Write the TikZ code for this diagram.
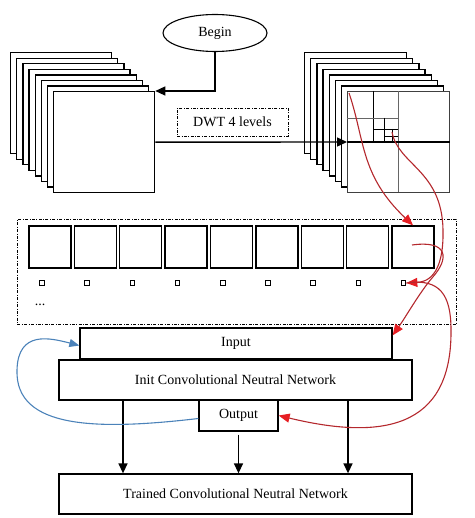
\documentclass[tikz,border=0pt]{standalone}
\usepackage{fontspec}
\setmainfont{Liberation Serif}
\usetikzlibrary{arrows.meta,shapes.geometric,calc}
\definecolor{redline}{RGB}{180,40,45}
\definecolor{redhead}{RGB}{230,30,35}
\definecolor{blueline}{RGB}{75,130,185}
\begin{document}
\begin{tikzpicture}[x=1pt,y=-1pt,
  every node/.style={font=\fontsize{14}{16}\selectfont},
  sheet/.style={draw=black,line width=1.3pt,fill=white,minimum width=101pt,minimum height=101pt,inner sep=0pt,anchor=north west},
  box/.style={draw=black,line width=1.3pt,fill=white,inner sep=0pt},
  dashdot/.style={draw=black,line width=0.8pt,dash pattern=on 3pt off 1.5pt on 0.8pt off 1.5pt},
  arr/.style={line width=1.4pt,-{Triangle[length=10pt,width=9pt]}},
  redarr/.style={draw=redline,line width=1.1pt,-{Triangle[length=11pt,width=9pt,color=redhead]}},
  bluearr/.style={draw=blueline,line width=1.1pt,-{Triangle[length=10pt,width=8pt]}},
  gridline/.style={line width=0.9pt}
]
\useasboundingbox (0,0) rectangle (474,518);
% left stack
\foreach \i in {0,...,6} \node[sheet] (l\i) at ({10+\i*6.14},{52+\i*5.57}) {};
\node[sheet] (lf) at (53,91) {};
% right stack
\foreach \i in {0,...,6} \node[sheet,minimum width=102pt] (r\i) at ({304+\i*6.14},{52+\i*5.57}) {};
\node[sheet,minimum width=102pt,draw=black!75,line width=1pt] (rf) at (347,91) {};
% wavelet subdivision
\draw[gridline,black!60] (398,91) -- (398,192);
\draw[gridline] (373,91) -- (373,141.5);
\draw[gridline,black!60] (347,118) -- (398,118);
\draw[gridline] (384,118) -- (384,141.5);
\draw[gridline] (373,129) -- (398,129);
\draw[gridline] (392,129) -- (392,141.5);
\draw[gridline] (384,136) -- (398,136);
% begin
\node[ellipse,draw,line width=1.1pt,minimum width=104pt,minimum height=37pt,inner sep=0pt] (begin) at (215,33) {Begin};
\draw[arr] (begin.south) |- (lf.north east);
% DWT
\node[dashdot,minimum width=111pt,minimum height=28pt,inner sep=0pt] (dwt) at (232.5,122) {DWT 4 levels};
\draw[arr] (lf.east) -- (rf.west);
\draw[line width=1.4pt] (rf.west) -- (rf.east);
% group box
\node[dashdot,minimum width=439pt,minimum height=105pt,inner sep=0pt,anchor=north west] (group) at (17,219) {};
\foreach \i in {1,...,9} \node[draw,line width=1.3pt,minimum size=42pt,inner sep=0pt] (sq\i) at ({50+(\i-1)*45.375},247) {};
\foreach \i in {1,...,9} \node[draw,line width=1pt,minimum size=4.5pt,inner sep=0pt] (ss\i) at ({42+(\i-1)*45.2},283) {};
\node (dots) at (40,305) {...};
% network boxes
\node[box,minimum width=312pt,minimum height=31pt] (input) at (236,343.5) {Input};
\node[box,minimum width=353pt,minimum height=40pt] (init) at (235.5,380) {Init Convolutional Neutral Network};
\node[box,minimum width=79pt,minimum height=31pt] (output) at (238.5,415.5) {Output};
\node[box,minimum width=353pt,minimum height=40pt] (trained) at (235.5,494) {Trained Convolutional Neutral Network};
\draw[arr] ([xshift=-112.5pt]init.south) -- ([xshift=-112.5pt]trained.north);
\draw[arr] ([xshift=112.5pt]init.south) -- ([xshift=112.5pt]trained.north);
\draw[arr,shorten <=3pt] (output.south) -- (output.south |- trained.north);
% red curves
\coordinate (ca) at (349,93);
\coordinate (cb) at (392,132);
\coordinate (cc) at (412,245);
\draw[redarr] (ca) .. controls (365,140) and (360,175) .. (sq9.north);
\draw[redarr] (cb) .. controls (398,165) and (442,170) .. (443,230) .. controls (444,278) and (425,282) .. (ss9.east);
\draw[redarr] (cc) .. controls (448,240) and (450,258) .. (432,278) .. controls (420,292) and (405,318) .. ([yshift=-8pt]input.north east);
\draw[redarr] (ss9.east) .. controls (440,278) and (451,295) .. (451,330) .. controls (452,430) and (380,440) .. (output.east);
% blue curve
\draw[bluearr] ([yshift=-3pt]output.west) .. controls (100,430) and (15,430) .. (17,370) .. controls (18,330) and (50,338) .. ([yshift=-2pt]input.west);
\end{tikzpicture}
\end{document}
